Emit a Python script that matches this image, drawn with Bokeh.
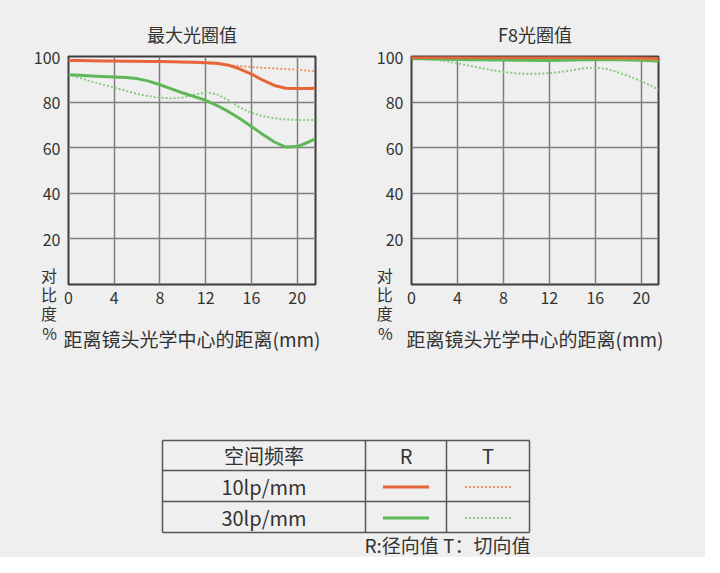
from bokeh.core.properties import value
from bokeh.embed import file_html
from bokeh.layouts import column, row
from bokeh.models import ColumnDataSource, FixedTicker, Range1d
from bokeh.plotting import figure
from bokeh.resources import INLINE

FONT = "Noto Sans CJK SC"
BG = "#efefef"
TXT = "#333333"

# distance from lens centre (mm)
dist = [0, 1, 2, 3, 4, 5, 6, 7, 8, 9, 10, 11, 12, 13, 14, 15, 16, 17, 18, 19, 20, 21, 21.6]

# max aperture
wide_10r = [98.3, 98.2, 98.1, 98.0, 98.0, 97.9, 97.9, 97.8, 97.8, 97.7, 97.6, 97.5, 97.3, 97.0, 96.2, 94.5, 92.3, 89.6, 87.3, 86.1, 86.0, 86.0, 86.1]
wide_10t = [98.3, 98.2, 98.1, 98.0, 98.0, 97.9, 97.8, 97.8, 97.7, 97.6, 97.5, 97.3, 97.0, 96.6, 96.2, 95.8, 95.4, 95.0, 94.8, 94.5, 94.2, 93.8, 93.6]
wide_30r = [92.0, 91.8, 91.5, 91.2, 91.0, 90.8, 90.3, 89.2, 87.6, 85.8, 84.0, 82.4, 80.8, 78.5, 75.8, 72.7, 69.3, 65.8, 62.5, 60.3, 60.5, 62.5, 64.0]
wide_30t = [92.0, 90.6, 89.0, 87.7, 86.4, 85.0, 83.6, 82.6, 81.9, 81.6, 82.0, 83.2, 84.2, 83.4, 80.8, 77.6, 75.2, 73.8, 72.9, 72.4, 72.2, 72.2, 72.2]

# F8
f8_10r = [99.6, 99.6, 99.6, 99.6, 99.6, 99.6, 99.6, 99.6, 99.6, 99.6, 99.6, 99.6, 99.6, 99.6, 99.6, 99.6, 99.5, 99.5, 99.5, 99.4, 99.3, 99.2, 99.1]
f8_10t = [99.4, 99.4, 99.4, 99.4, 99.4, 99.4, 99.3, 99.3, 99.3, 99.3, 99.3, 99.3, 99.3, 99.2, 99.2, 99.2, 99.1, 99.1, 99.0, 98.9, 98.8, 98.6, 98.5]
f8_30r = [99.0, 99.0, 98.9, 98.8, 98.7, 98.6, 98.6, 98.5, 98.5, 98.4, 98.4, 98.3, 98.3, 98.4, 98.5, 98.6, 98.6, 98.6, 98.6, 98.5, 98.4, 98.1, 97.8]
f8_30t = [99.0, 98.9, 98.6, 98.0, 97.0, 96.0, 95.0, 94.0, 93.2, 92.6, 92.4, 92.4, 92.7, 93.2, 94.0, 94.8, 95.2, 94.5, 93.0, 91.2, 89.2, 86.8, 85.3]

x_ticks = [0, 4, 8, 12, 16, 20]
y_ticks = [0, 20, 40, 60, 80, 100]
y_title = ["对", "比", "度", "%"]

# line styles: (colour, dash, width)
styles = {
    "10r": ("#e8653a", "solid", 3),
    "10t": ("#ef9467", "2 2", 2),
    "30r": ("#5fb757", "solid", 3),
    "30t": ("#88cc7e", "2 2", 2),
}


def mtf_chart(title, xmax, curves, border_left, border_right, pad):
    p = figure(frame_width=247, frame_height=228,
               x_range=Range1d(0, xmax), y_range=Range1d(0, 100),
               title=title, toolbar_location=None, output_backend="svg",
               min_border_left=border_left, min_border_right=border_right,
               min_border_top=56, min_border_bottom=88,
               background_fill_color=BG, border_fill_color=BG)
    p.title.align = "center"
    p.title.text_font = FONT
    p.title.text_font_size = "18px"
    p.title.text_font_style = "normal"
    p.title.text_color = TXT
    p.title.standoff = 20
    p.outline_line_color = "#3c3c3c"
    p.outline_line_width = 2
    p.outline_line_alpha = 1

    p.xaxis.ticker = FixedTicker(ticks=x_ticks)
    p.yaxis.ticker = FixedTicker(ticks=y_ticks)
    # the stacked y title hangs off the bottom (0) tick of the y axis
    p.yaxis.major_label_overrides = {0: "\n\n" + "\n".join(ch + pad for ch in y_title)}
    p.yaxis.major_label_text_line_height = 0.8
    for ax in p.xaxis + p.yaxis:
        ax.axis_line_color = None
        ax.major_tick_line_color = None
        ax.minor_tick_line_color = None
        ax.major_label_text_font = FONT
        ax.major_label_text_font_size = "16px"
        ax.major_label_text_color = TXT
    p.yaxis.major_label_standoff = 2
    p.xaxis.major_label_standoff = 1
    p.xaxis.axis_label = "距离镜头光学中心的距离(mm)"
    p.xaxis.axis_label_text_font = FONT
    p.xaxis.axis_label_text_font_size = "19px"
    p.xaxis.axis_label_text_font_style = "normal"
    p.xaxis.axis_label_text_color = TXT
    p.xaxis.axis_label_standoff = 18

    p.grid.grid_line_color = "#7e7e7e"
    p.grid.grid_line_width = 1.5

    for key in ["30t", "30r", "10t", "10r"]:
        color, dash, width = styles[key]
        p.line(dist, curves[key], line_color=color, line_dash=dash, line_width=width)
    return p


p1 = mtf_chart("最大光圈值", 21.6,
               {"10r": wide_10r, "10t": wide_10t, "30r": wide_30r, "30t": wide_30t},
               68, 37, " ")
p2 = mtf_chart("F8光圈值", 21.5,
               {"10r": f8_10r, "10t": f8_10t, "30r": f8_30r, "30t": f8_30t},
               59, 47, "   ")

# legend table
freq_labels = ["10lp/mm", "30lp/mm"]
head_labels = ["空间频率", "R", "T"]

t = figure(frame_width=704, frame_height=185, x_range=Range1d(0, 704), y_range=Range1d(185, 0),
           toolbar_location=None, output_backend="svg",
           min_border=0, background_fill_color=BG, border_fill_color=BG, outline_line_color=None)
t.axis.visible = False
t.grid.visible = False

tx0, tx1 = 162, 529
col_x = [365, 446]
row_y = [68, 98, 129, 160]
t.multi_line([[tx0, tx1]] * len(row_y), [[y, y] for y in row_y], line_color="#555555", line_width=1.5)
t.multi_line([[x, x] for x in [tx0] + col_x + [tx1]], [[row_y[0], row_y[-1]]] * 4,
             line_color="#555555", line_width=1.5)

head = ColumnDataSource(dict(x=[(tx0 + col_x[0]) / 2, (col_x[0] + col_x[1]) / 2, (col_x[1] + tx1) / 2],
                             y=[(row_y[0] + row_y[1]) / 2] * 3, text=head_labels))
t.text("x", "y", "text", source=head, text_font=value(FONT), text_font_size="20px",
       text_align="center", text_baseline="middle", text_color=TXT)
rows = ColumnDataSource(dict(x=[(tx0 + col_x[0]) / 2] * 2,
                             y=[(row_y[1] + row_y[2]) / 2, (row_y[2] + row_y[3]) / 2], text=freq_labels))
t.text("x", "y", "text", source=rows, text_font=value(FONT), text_font_size="20px",
       text_align="center", text_baseline="middle", text_color=TXT)

for i, freq in enumerate(["10", "30"]):
    yy = (row_y[i + 1] + row_y[i + 2]) / 2 + 1
    for j, kind in enumerate(["r", "t"]):
        color, dash, width = styles[freq + kind]
        cx = (col_x[0] + col_x[1]) / 2 if j == 0 else (col_x[1] + tx1) / 2
        t.line([cx - 23, cx + 23], [yy, yy], line_color=color, line_dash=dash, line_width=width)

t.text([530], [172], ["R:径向值 T：切向值"], text_font=value(FONT), text_font_size="19px",
       text_align="right", text_baseline="middle", text_color=TXT)

layout = column(row(p1, p2), t, background=BG)
open("out.html", "w").write(file_html(layout, INLINE))
